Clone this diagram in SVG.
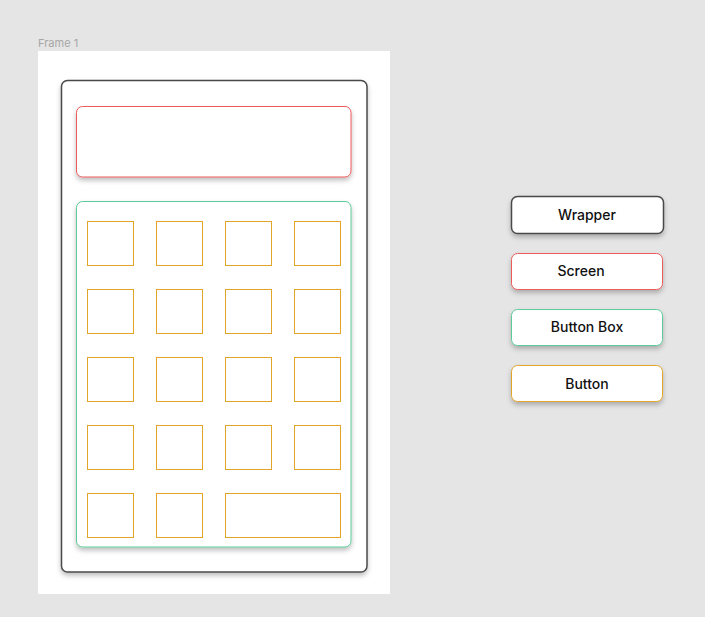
<svg xmlns="http://www.w3.org/2000/svg" width="705" height="617" viewBox="0 0 705 617">
<defs>
<filter id="sh" x="-20%" y="-20%" width="140%" height="150%">
<feDropShadow dx="0" dy="3" stdDeviation="2.5" flood-color="#000" flood-opacity="0.25"/>
</filter>
</defs>
<style>
.wrap{fill:#fff;stroke:#4a4a4a;stroke-width:1.5}
.scr{fill:#fff;stroke:#ec5a5a;stroke-width:1}
.box{fill:#fff;stroke:#5ccb98;stroke-width:1}
.btn{fill:#fff;stroke:#e3a42b;stroke-width:1}
.lbl{font-family:Inter,Roboto,"Liberation Sans",sans-serif;font-size:14px;font-weight:500;fill:#111;text-anchor:middle}
</style>
<rect width="705" height="617" fill="#e5e5e5"/>
<text x="38" y="47" font-family="Inter,Roboto,'Liberation Sans',sans-serif" font-size="11" fill="#a6a6a6">Frame 1</text>
<rect x="38" y="51" width="352" height="543" fill="#fff"/>
<g id="wrapper"><rect class="wrap" x="61.5" y="80.5" width="305.5" height="491.5" rx="6" filter="url(#sh)"/></g>
<g id="screen"><rect class="scr" x="76.5" y="106.5" width="274.5" height="70.5" rx="6" filter="url(#sh)"/></g>
<g id="button-box"><rect class="box" x="76.5" y="201.5" width="274.5" height="345.5" rx="6" filter="url(#sh)"/></g>
<g id="buttons">
<rect class="btn" x="87.5" y="221.5" width="46" height="44"/>
<rect class="btn" x="156.5" y="221.5" width="46" height="44"/>
<rect class="btn" x="225.5" y="221.5" width="46" height="44"/>
<rect class="btn" x="294.5" y="221.5" width="46" height="44"/>
<rect class="btn" x="87.5" y="289.5" width="46" height="44"/>
<rect class="btn" x="156.5" y="289.5" width="46" height="44"/>
<rect class="btn" x="225.5" y="289.5" width="46" height="44"/>
<rect class="btn" x="294.5" y="289.5" width="46" height="44"/>
<rect class="btn" x="87.5" y="357.5" width="46" height="44"/>
<rect class="btn" x="156.5" y="357.5" width="46" height="44"/>
<rect class="btn" x="225.5" y="357.5" width="46" height="44"/>
<rect class="btn" x="294.5" y="357.5" width="46" height="44"/>
<rect class="btn" x="87.5" y="425.5" width="46" height="44"/>
<rect class="btn" x="156.5" y="425.5" width="46" height="44"/>
<rect class="btn" x="225.5" y="425.5" width="46" height="44"/>
<rect class="btn" x="294.5" y="425.5" width="46" height="44"/>
<rect class="btn" x="87.5" y="493.5" width="46" height="44"/>
<rect class="btn" x="156.5" y="493.5" width="46" height="44"/>
<rect class="btn" x="225.5" y="493.5" width="115" height="44"/>
</g>
<g id="connectors"></g>
<g id="legend-wrapper"><rect class="wrap" x="511.5" y="196.5" width="152" height="37" rx="6" filter="url(#sh)"/><text class="lbl" x="587" y="220">Wrapper</text></g>
<g id="legend-screen"><rect class="scr" x="511.5" y="253.5" width="151" height="36" rx="6" filter="url(#sh)"/><text class="lbl" x="581" y="276">Screen</text></g>
<g id="legend-button-box"><rect class="box" x="511.5" y="309.5" width="151" height="36" rx="6" filter="url(#sh)"/><text class="lbl" x="587" y="332">Button Box</text></g>
<g id="legend-button"><rect class="btn" x="511.5" y="365.5" width="151" height="36" rx="6" filter="url(#sh)"/><text class="lbl" x="587" y="389">Button</text></g>
</svg>
